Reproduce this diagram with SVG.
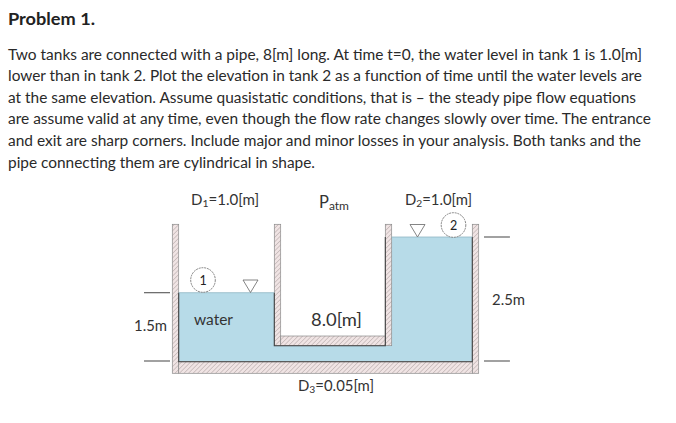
<svg xmlns="http://www.w3.org/2000/svg" width="676" height="423" viewBox="0 0 676 423">
<style>
text{font-family:"Lato","Carlito","Open Sans",sans-serif;fill:#222}
.p{font-size:15.6px;fill:#2a2a2a}
.l{font-size:14.5px;fill:#333}
.b{font-size:16.5px;fill:#333}
.s{font-size:10px}
.wall{fill:url(#h);stroke:#8a8a8a;stroke-width:.7}
.edge{fill:none;stroke:#444;stroke-width:1.1}
.tick{stroke:#555;stroke-width:1.1}
.tri{fill:#fff;stroke:#666;stroke-width:.8}
.c{fill:#fff;stroke:#666;stroke-width:.8;stroke-dasharray:2 .8}
</style>
<defs>
<pattern id="h" width="3.2" height="3.2" patternUnits="userSpaceOnUse" patternTransform="rotate(45)">
<rect width="3.2" height="3.2" fill="#f0e4e4"/>
<rect width=".6" height="3.2" fill="#b9aeae"/>
</pattern>
</defs>
<rect width="676" height="423" fill="#fff"/>
<g id="statement">
<text x="8" y="25" font-size="17" font-weight="700" fill="#111" textLength="87" lengthAdjust="spacingAndGlyphs">Problem 1.</text>
<text class="p" x="8" y="60" textLength="634" lengthAdjust="spacingAndGlyphs">Two tanks are connected with a pipe, 8[m] long. At time t=0, the water level in tank 1 is 1.0[m]</text>
<text class="p" x="8" y="81" textLength="634" lengthAdjust="spacingAndGlyphs">lower than in tank 2. Plot the elevation in tank 2 as a function of time until the water levels are</text>
<text class="p" x="8" y="103" textLength="628" lengthAdjust="spacingAndGlyphs">at the same elevation. Assume quasistatic conditions, that is – the steady pipe flow equations</text>
<text class="p" x="8" y="124" textLength="643" lengthAdjust="spacingAndGlyphs">are assume valid at any time, even though the flow rate changes slowly over time. The entrance</text>
<text class="p" x="8" y="146" textLength="633" lengthAdjust="spacingAndGlyphs">and exit are sharp corners. Include major and minor losses in your analysis. Both tanks and the</text>
<text class="p" x="8" y="168" textLength="307" lengthAdjust="spacingAndGlyphs">pipe connecting them are cylindrical in shape.</text>
</g>
<g id="water">
<path d="M178.7 292.7H274.3V345.7H385.3V237H472.3V361.7H178.7Z" fill="#b7dbe8"/>
</g>
<g id="walls">
<rect class="wall" x="172.3" y="224.3" width="6.4" height="149"/>
<rect class="wall" x="274.3" y="224.3" width="6.4" height="121.4"/>
<rect class="wall" x="385.3" y="224.3" width="6.4" height="121.4"/>
<rect class="wall" x="472.3" y="224.3" width="6.4" height="149"/>
<rect class="wall" x="280.7" y="336" width="104.6" height="9.7"/>
<rect class="wall" x="178.7" y="361.7" width="293.6" height="11.6"/>
<path class="edge" d="M178.7 292.7V361.7H472.3V237M274.3 292.7V345.7H385.3V237"/>
</g>
<g id="connectors">
<line class="tick" x1="144" y1="292.7" x2="170" y2="292.7"/>
<line class="tick" x1="144" y1="361" x2="170" y2="361"/>
<line class="tick" x1="484" y1="237" x2="510" y2="237"/>
<line class="tick" x1="484" y1="361" x2="510" y2="361"/>
</g>
<g id="surface1">
<path d="M178.7 292.7H274.3" stroke="#8fb6c4" stroke-width=".8"/>
<polygon class="tri" points="243,280 258,280 250.5,292.5"/>
<circle class="c" cx="203" cy="280" r="12.3"/>
<text x="203" y="285" font-size="12.5" text-anchor="middle">1</text>
</g>
<g id="surface2">
<path d="M391.7 237H472.3" stroke="#8fb6c4" stroke-width=".8"/>
<polygon class="tri" points="410,224.5 425,224.5 417.5,237"/>
<circle class="c" cx="453.5" cy="225" r="12.3"/>
<text x="453.5" y="230" font-size="12.5" text-anchor="middle">2</text>
</g>
<g id="labels">
<text class="l" x="191" y="205" textLength="68" lengthAdjust="spacingAndGlyphs">D<tspan class="s" dy="2">1</tspan><tspan dy="-2">=1.0[m]</tspan></text>
<text class="b" x="319" y="208">P<tspan font-size="12" style="font-size:12px" dy="2">atm</tspan></text>
<text class="l" x="405" y="205" textLength="67" lengthAdjust="spacingAndGlyphs">D<tspan class="s" dy="2">2</tspan><tspan dy="-2">=1.0[m]</tspan></text>
<text class="l" x="134" y="331" textLength="33" lengthAdjust="spacingAndGlyphs">1.5m</text>
<text class="l" x="194" y="325" textLength="39" lengthAdjust="spacingAndGlyphs">water</text>
<text class="b" x="311" y="326" textLength="51" lengthAdjust="spacingAndGlyphs">8.0[m]</text>
<text class="l" x="492" y="305" textLength="33" lengthAdjust="spacingAndGlyphs">2.5m</text>
<text class="l" x="298" y="391" textLength="76" lengthAdjust="spacingAndGlyphs">D<tspan class="s" dy="2">3</tspan><tspan dy="-2">=0.05[m]</tspan></text>
</g>
</svg>
